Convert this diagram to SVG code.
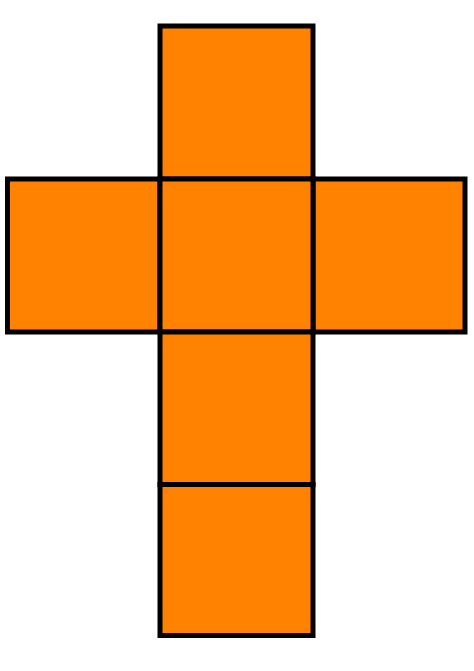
<svg xmlns="http://www.w3.org/2000/svg" width="474" height="671" viewBox="0 0 474 671">
<style>.f{fill:#FF8300;stroke:#000;stroke-width:5;stroke-linejoin:miter}</style>
<rect width="474" height="671" fill="#fff"/>
<g id="top"><rect class="f" x="160" y="26" width="153" height="153"/></g>
<g id="left"><rect class="f" x="7.5" y="179" width="152.5" height="153"/></g>
<g id="right"><rect class="f" x="313" y="179" width="152" height="153"/></g>
<g id="center"><rect class="f" x="160" y="179" width="153" height="153"/></g>
<g id="lower"><rect class="f" x="160" y="332" width="153" height="152.5"/></g>
<g id="bottom"><rect class="f" x="160" y="484.5" width="153" height="151"/></g>
<g id="connectors"></g>
</svg>
